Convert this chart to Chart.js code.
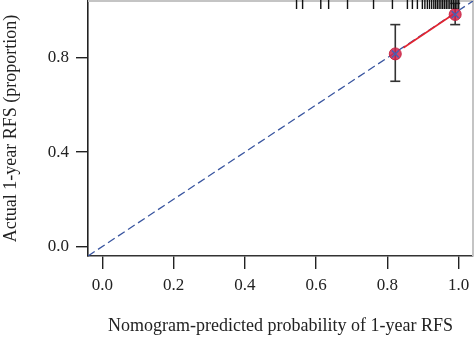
<!DOCTYPE html>
<html>
<head>
<meta charset="utf-8">
<script src="https://cdn.jsdelivr.net/npm/chart.js@4/dist/chart.umd.min.js"></script>
<style>
  html, body { margin: 0; padding: 0; background: #fff; }
  #wrap { width: 474px; height: 337px; }
</style>
</head>
<body>
<div id="wrap"><canvas id="chart"></canvas></div>
<script>
// calibration points (predicted vs observed)
const predX = [0.822, 0.99];
const obsY = [0.816, 0.983];
const errLo = [0.70, 0.94];
const errHi = [0.94, 1.03];
// apparent calibration line
const redX = [0.845, 0.985];
const redY = [0.842, 0.984];
// ideal diagonal
const idealX = [-0.04, 1.04];
// rug of predicted values (top margin)
const rugX = [0.545, 0.562, 0.613, 0.635, 0.688, 0.761, 0.814, 0.856, 0.870, 0.884, 0.898,
  0.905, 0.912, 0.918, 0.924, 0.93, 0.935, 0.94, 0.945, 0.95, 0.955, 0.96, 0.965, 0.97,
  0.975, 0.98, 0.985, 0.99, 0.995, 1.0];
const xTicks = [0, 0.2, 0.4, 0.6, 0.8, 1.0];
const yTicks = [0, 0.4, 0.8];

const serif = '"Liberation Serif", "DejaVu Serif", serif';

// error bars as gapped line segments
const errLine = [];
const errCaps = [];
predX.forEach((x, i) => {
  errLine.push({x: x, y: errLo[i]}, {x: x, y: errHi[i]}, {x: x, y: NaN});
  errCaps.push({x: x, y: errLo[i]}, {x: x, y: errHi[i]});
});

const boxPlugin = {
  id: 'box',
  beforeDatasetsDraw(chart) {
    const {ctx, chartArea: a} = chart;
    ctx.save();
    ctx.strokeStyle = '#c4c4c4';
    ctx.lineWidth = 2;
    ctx.beginPath();
    ctx.moveTo(a.left, a.top);
    ctx.lineTo(a.right, a.top);
    ctx.lineTo(a.right, a.bottom);
    ctx.stroke();
    ctx.restore();
  }
};

const yMax = 1.04;

new Chart(document.getElementById('chart'), {
  type: 'scatter',
  data: {
    datasets: [
      {
        label: 'ideal',
        type: 'line',
        data: idealX.map(v => ({x: v, y: v})),
        borderColor: '#3a56a0',
        borderWidth: 1.3,
        borderDash: [8, 4],
        pointRadius: 0,
        order: 5
      },
      {
        label: 'apparent',
        type: 'line',
        data: redX.map((x, i) => ({x: x, y: redY[i]})),
        borderColor: '#e3242f',
        borderWidth: 1.6,
        pointRadius: 0,
        order: 4
      },
      {
        label: 'err',
        type: 'line',
        data: errLine,
        borderColor: '#333',
        borderWidth: 1.6,
        pointRadius: 0,
        spanGaps: false,
        order: 3
      },
      {
        label: 'caps',
        data: errCaps,
        pointStyle: 'line',
        pointRadius: 5,
        borderColor: '#333',
        borderWidth: 1.6,
        order: 3
      },
      {
        label: 'obs',
        data: predX.map((x, i) => ({x: x, y: obsY[i]})),
        pointStyle: 'circle',
        pointRadius: 6,
        backgroundColor: 'rgba(208,36,76,0.85)',
        borderColor: 'rgba(200,30,60,0.9)',
        borderWidth: 1,
        order: 2
      },
      {
        label: 'corr',
        data: predX.map((x, i) => ({x: x, y: obsY[i]})),
        pointStyle: 'crossRot',
        pointRadius: 5,
        borderColor: '#4a5fb0',
        borderWidth: 1.5,
        order: 1
      },
      {
        label: 'rug',
        data: rugX.map(x => ({x: x, y: yMax})),
        pointStyle: 'line',
        rotation: 90,
        pointRadius: 8,
        hoverRadius: 0,
        borderColor: '#111',
        borderWidth: 1.4,
        clip: false,
        order: 0
      }
    ]
  },
  options: {
    responsive: true,
    maintainAspectRatio: false,
    animation: false,
    events: [],
    layout: {autoPadding: false, padding: {top: 1, right: 1, left: 0, bottom: 0}},
    plugins: {legend: {display: false}, tooltip: {enabled: false}},
    scales: {
      x: {
        type: 'linear',
        min: -0.04,
        max: 1.04,
        afterBuildTicks: s => { s.ticks = xTicks.map(v => ({value: v})); },
        afterFit: s => { s.height = 81; s.paddingLeft = 0; s.paddingRight = 0; },
        grid: {drawOnChartArea: false, drawTicks: true, tickLength: 13, color: '#222', lineWidth: 1.4},
        border: {display: true, color: '#333', width: 1.4},
        ticks: {
          font: {family: serif, size: 17},
          color: '#222',
          padding: 6,
          maxRotation: 0,
          callback: v => v.toFixed(1)
        },
        title: {
          display: true,
          text: 'Nomogram-predicted probability of 1-year RFS',
          font: {family: serif, size: 18},
          color: '#222',
          padding: {top: 0, bottom: 0}
        }
      },
      y: {
        type: 'linear',
        min: -0.04,
        max: yMax,
        afterBuildTicks: s => { s.ticks = yTicks.map(v => ({value: v})); },
        afterFit: s => { s.width = 88; s.paddingTop = 0; s.paddingBottom = 0; },
        grid: {drawOnChartArea: false, drawTicks: true, tickLength: 12, color: '#222', lineWidth: 1.4},
        border: {display: true, color: '#222', width: 1.6},
        ticks: {
          font: {family: serif, size: 17},
          color: '#222',
          padding: 7,
          callback: v => v.toFixed(1)
        },
        title: {
          display: true,
          text: 'Actual 1-year RFS (proportion)',
          font: {family: serif, size: 18},
          color: '#222',
          padding: {top: 0, bottom: 2}
        }
      }
    }
  },
  plugins: [boxPlugin]
});
</script>
</body>
</html>
